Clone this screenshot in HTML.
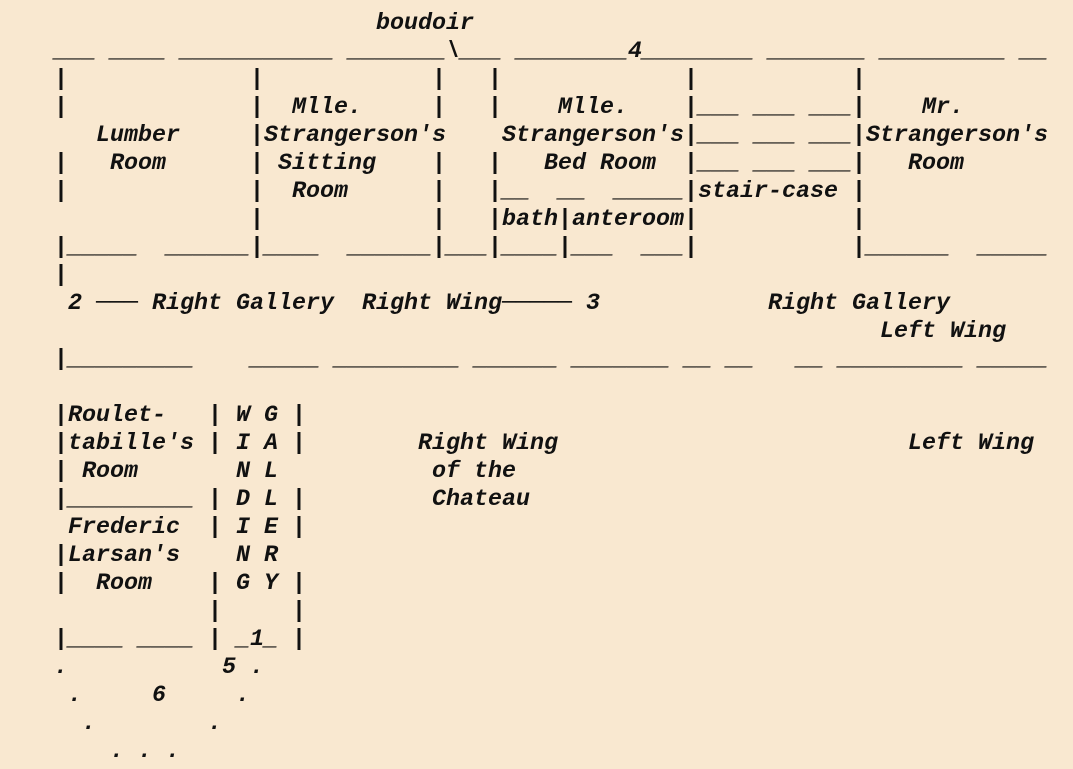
<!DOCTYPE html>
<html><head><meta charset="utf-8"><style>
html,body{margin:0;padding:0;background:#f9e8d0;width:1073px;height:769px;overflow:hidden}
pre{position:absolute;left:54px;top:10px;margin:0;font-family:"Liberation Mono","DejaVu Sans Mono",monospace;font-size:23.33px;line-height:28px;font-style:italic;font-weight:bold;color:#111}
</style></head><body>
<pre>                       boudoir
___ ____ ___________ _______\___ ________4________ _______ _________ __
|             |            |   |             |           |
|             |  Mlle.     |   |    Mlle.    |___ ___ ___|    Mr.
   Lumber     |Strangerson's    Strangerson's|___ ___ ___|Strangerson's
|   Room      | Sitting    |   |   Bed Room  |___ ___ ___|   Room
|             |  Room      |   |__  __  _____|stair-case |
              |            |   |bath|anteroom|           |
|_____  ______|____  ______|___|____|___  ___|           |______  _____
|
 2 ─── Right Gallery  Right Wing───── 3            Right Gallery
                                                           Left Wing
|_________    _____ _________ ______ _______ __ __   __ _________ _____

|Roulet-   | W G |
|tabille's | I A |        Right Wing                         Left Wing
| Room       N L           of the
|_________ | D L |         Chateau
 Frederic  | I E |
|Larsan's    N R
|  Room    | G Y |
           |     |
|____ ____ | _1_ |
.           5 .
 .     6     .
  .        .
    . . .</pre>
</body></html>
